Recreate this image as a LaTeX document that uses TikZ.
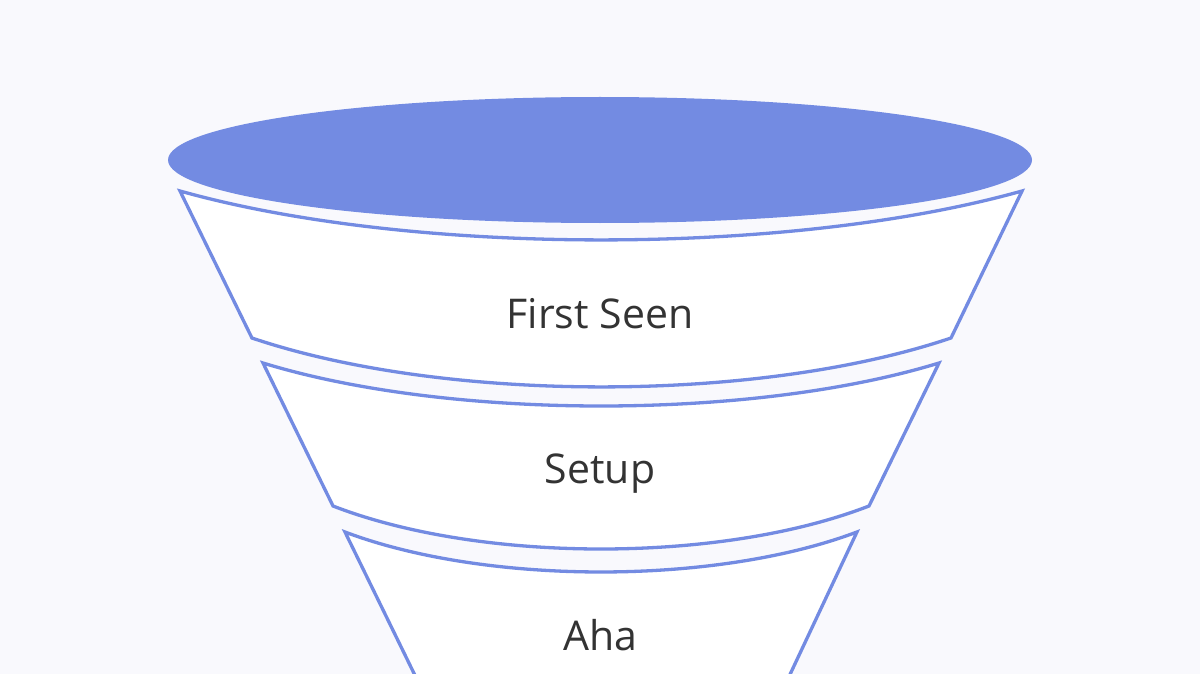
\documentclass[tikz,border=0pt]{standalone}
\usepackage{fontspec}
\setmainfont{Open Sans}
\definecolor{bg}{HTML}{F9F9FD}
\definecolor{fun}{HTML}{738BE2}
\definecolor{txt}{HTML}{333333}
\begin{document}
\begin{tikzpicture}[x=1pt,y=-1pt,
  band/.style={draw=fun,line width=3.3pt,fill=white,line join=miter},
  lbl/.style={text=txt,font=\fontsize{41}{46}\selectfont}]
\clip (0,0) rectangle (1200,674);
\fill[bg] (0,0) rectangle (1200,674);
\fill[fun] (600,160) ellipse [x radius=432pt,y radius=63pt];
\draw[band] (180,191) arc[start angle=225,end angle=315,x radius=595.4pt,y radius=167pt]
  -- (951,338) arc[start angle=-45,end angle=-135,x radius=494.3pt,y radius=167pt] -- cycle;
\draw[band] (263,363) arc[start angle=225,end angle=315,x radius=478pt,y radius=146.8pt]
  -- (869,506) arc[start angle=-45,end angle=-135,x radius=379pt,y radius=146.8pt] -- cycle;
\draw[band] (345,532) arc[start angle=225,end angle=315,x radius=362pt,y radius=136.5pt]
  -- (778,700) -- (427,700) -- cycle;
\node[lbl] (a) at (600,314) {First Seen};
\node[lbl] (b) at (600,474) {Setup};
\node[lbl] (c) at (600,635) {Aha};
\end{tikzpicture}
\end{document}
